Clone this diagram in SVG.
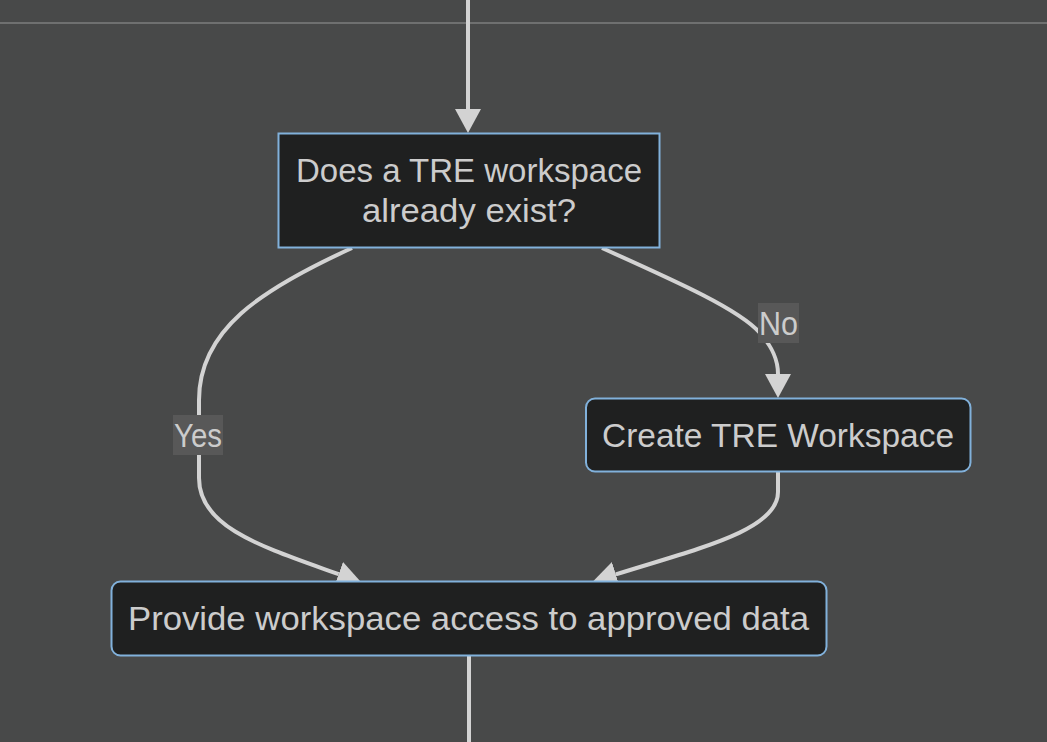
<svg xmlns="http://www.w3.org/2000/svg" width="1047" height="742" viewBox="0 0 1047 742">
  <style>
    .bg { fill: #484949; }
    .node rect { fill: #1f2020; stroke: #81b1db; stroke-width: 2; }
    .node text, .label text { font-family: "Liberation Sans", Arial, sans-serif; font-size: 33px; fill: #cccccc; text-anchor: middle; }
    .edge { fill: none; stroke: #d3d3d3; stroke-width: 4; }
    .label rect { fill: #585858; }
  </style>
  <defs>
    <marker id="arrow" markerUnits="userSpaceOnUse" markerWidth="24" markerHeight="26" refX="0" refY="13" orient="auto" viewBox="0 0 24 26">
      <path d="M0,0 L24,13 L0,26 Z" fill="#d3d3d3"/>
    </marker>
  </defs>
  <rect class="bg" x="0" y="0" width="1047" height="742"/>
  <line x1="0" y1="23" x2="1047" y2="23" stroke="#6f7070" stroke-width="2"/>
  <g id="connectors">
    <path class="edge" d="M468,0 L468,109" marker-end="url(#arrow)"/>
    <path class="edge" d="M352,248 C260,290 199,330 199,400 L199,478 C199,528 263,547 338.6,574.2" marker-end="url(#arrow)"/>
    <path class="edge" d="M602,248 C680,283 740,310 760,333 C773,348 778,360 778,374" marker-end="url(#arrow)"/>
    <path class="edge" d="M778,472 L778,492 C778,530 700,548 615.8,574.4" marker-end="url(#arrow)"/>
    <path class="edge" d="M469,655 L469,742"/>
    <g class="label" id="label-yes">
      <rect x="173" y="415" width="50" height="40"/>
      <text x="198" y="447" textLength="48" lengthAdjust="spacingAndGlyphs">Yes</text>
    </g>
    <g class="label" id="label-no">
      <rect x="758" y="303" width="41" height="40"/>
      <text x="778.5" y="335" textLength="39" lengthAdjust="spacingAndGlyphs">No</text>
    </g>
  </g>
  <g class="node" id="node-exists">
    <rect x="278.5" y="133.5" width="381" height="114"/>
    <text x="469" y="182" textLength="346" lengthAdjust="spacingAndGlyphs">Does a TRE workspace</text>
    <text x="469" y="222" textLength="214" lengthAdjust="spacingAndGlyphs">already exist?</text>
  </g>
  <g class="node" id="node-create">
    <rect x="586" y="398.5" width="384.5" height="73" rx="9" ry="9"/>
    <text x="778" y="447" textLength="352" lengthAdjust="spacingAndGlyphs">Create TRE Workspace</text>
  </g>
  <g class="node" id="node-provide">
    <rect x="111.5" y="581.5" width="715" height="74" rx="9" ry="9"/>
    <text x="468.5" y="630" textLength="681" lengthAdjust="spacingAndGlyphs">Provide workspace access to approved data</text>
  </g>
</svg>
